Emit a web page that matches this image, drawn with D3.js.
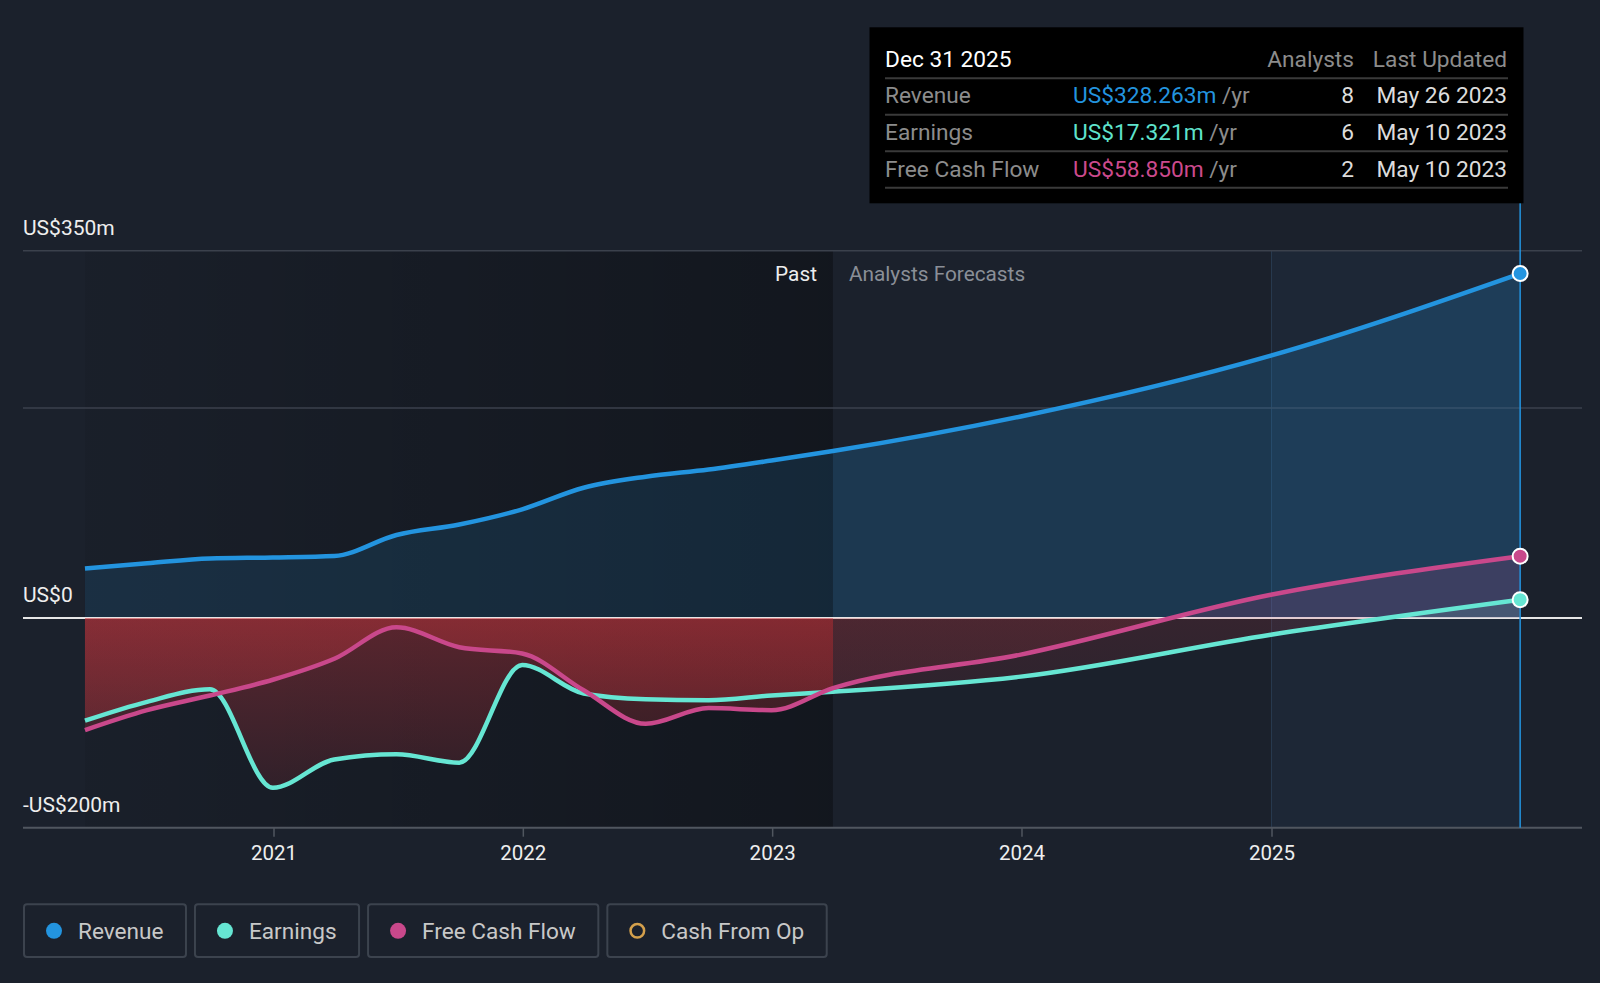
<!DOCTYPE html>
<html>
<head>
<meta charset="utf-8">
<script src="https://cdn.jsdelivr.net/npm/d3@7"></script>
<style>
  body { margin: 0; background: #1b212c; }
  svg { display: block; font-family: Roboto, sans-serif; }
</style>
</head>
<body>
<div id="chart"></div>
<script>
// ---- data (US$ m, trailing twelve months, then analyst forecasts) ----
const pastDates = ["2020-03-31", "2020-06-30", "2020-09-30", "2020-12-31", "2021-03-31", "2021-06-30",
  "2021-09-30", "2021-12-31", "2022-03-31", "2022-06-30", "2022-09-30", "2022-12-31", "2023-03-31"];
const forecastDates = ["2023-12-31", "2024-12-31", "2025-12-31"];

const revenuePast = [47, 52, 56.7, 57.6, 59, 79, 89, 103.5, 124, 134.6, 141.4, 150, 159];
const earningsPast = [-98, -80, -68, -162, -135, -130, -138, -45, -72, -77.5, -78.5, -74, -70.5];
const fcfPast = [-107, -88, -74, -59, -39, -9, -28, -34, -69, -101, -86, -88, -67];

const revenueForecast = [192, 250, 328.263];
const earningsForecast = [-56, -16, 17.321];
const fcfForecast = [-35, 22, 58.85];

const yTicks = [350, 0, -200];
const yGrid = [350, 200];
const xTickYears = ["2021", "2022", "2023", "2024", "2025"];

const tooltipRows = [
  {name: "Revenue", value: "US$328.263m", analysts: "8", updated: "May 26 2023", color: "#2394df"},
  {name: "Earnings", value: "US$17.321m", analysts: "6", updated: "May 10 2023", color: "#5fe3cc"},
  {name: "Free Cash Flow", value: "US$58.850m", analysts: "2", updated: "May 10 2023", color: "#cc4a8d"}
];
const legendItems = [
  {name: "Revenue", color: "#2394df", ring: false},
  {name: "Earnings", color: "#66e6d3", ring: false},
  {name: "Free Cash Flow", color: "#c9488b", ring: false},
  {name: "Cash From Op", color: "#d4a04c", ring: true}
];

const W = 1600, H = 983;
const parse = d3.timeParse("%Y-%m-%d");

function buildSeries(past, fc) {
  const pts = pastDates.map((d, i) => ({date: parse(d), v: past[i]}));
  forecastDates.forEach((d, i) => pts.push({date: parse(d), v: fc[i]}));
  return pts;
}
const revenue = buildSeries(revenuePast, revenueForecast);
const earnings = buildSeries(earningsPast, earningsForecast);
const fcf = buildSeries(fcfPast, fcfForecast);

// scales
const x = d3.scaleTime()
    .domain([parse("2021-01-01"), parse("2025-01-01")])
    .range([273.5, 1271.5]);
const y = d3.scaleLinear().domain([-200, 350]).range([827.7, 250.7]);

const left = 23, right = 1582;
const xStart = x(parse(pastDates[0]));
const xNow = x(parse(pastDates[pastDates.length - 1]));
const xEnd = x(parse(forecastDates[forecastDates.length - 1]));

const svg = d3.select("#chart").append("svg")
    .attr("width", W)
    .attr("height", H);

const defs = svg.append("defs");

svg.append("rect").attr("width", W).attr("height", H).attr("fill", "#1b212c");

// gradients
const pastGrad = defs.append("linearGradient").attr("id", "pastGrad")
    .attr("x1", "0%").attr("x2", "100%").attr("y1", "0%").attr("y2", "0%");
pastGrad.append("stop").attr("offset", "0%").attr("stop-color", "#000").attr("stop-opacity", 0.06);
pastGrad.append("stop").attr("offset", "100%").attr("stop-color", "#000").attr("stop-opacity", 0.32);

const redGrad = defs.append("linearGradient").attr("id", "redGrad")
    .attr("gradientUnits", "userSpaceOnUse")
    .attr("x1", 0).attr("x2", 0).attr("y1", y(0)).attr("y2", y(-200));
redGrad.append("stop").attr("offset", "0%").attr("stop-color", "#d2373e").attr("stop-opacity", 0.36);
redGrad.append("stop").attr("offset", "100%").attr("stop-color", "#d2373e").attr("stop-opacity", 0.08);

// clip paths
defs.append("clipPath").attr("id", "clipPast").append("rect")
    .attr("x", 0).attr("y", 0).attr("width", xNow).attr("height", H);
defs.append("clipPath").attr("id", "clipFore").append("rect")
    .attr("x", xNow).attr("y", 0).attr("width", W - xNow).attr("height", H);
defs.append("clipPath").attr("id", "clipAbove").append("rect")
    .attr("x", 0).attr("y", 0).attr("width", W).attr("height", y(0));
defs.append("clipPath").attr("id", "clipBelow").append("rect")
    .attr("x", 0).attr("y", y(0)).attr("width", W).attr("height", H - y(0));

// past region background
svg.append("rect")
    .attr("x", xStart).attr("y", y(350))
    .attr("width", xNow - xStart).attr("height", y(-200) - y(350))
    .attr("fill", "url(#pastGrad)");

// highlighted last year band
svg.append("rect")
    .attr("x", x(parse("2025-01-01"))).attr("y", y(350))
    .attr("width", xEnd - x(parse("2025-01-01"))).attr("height", y(-200) - y(350))
    .attr("fill", "#3a78b4").attr("fill-opacity", 0.08);
svg.append("line")
    .attr("x1", x(parse("2025-01-01"))).attr("x2", x(parse("2025-01-01")))
    .attr("y1", y(350)).attr("y2", y(-200))
    .attr("stroke", "#4a7aa6").attr("stroke-opacity", 0.25);

// gridlines
svg.selectAll(".grid").data(yGrid).join("line")
    .attr("class", "grid")
    .attr("x1", left).attr("x2", right)
    .attr("y1", d => y(d)).attr("y2", d => y(d))
    .attr("stroke", "#3b414c").attr("stroke-width", 1.5);

// y labels
svg.selectAll(".ylab").data(yTicks).join("text")
    .attr("class", "ylab")
    .attr("x", left).attr("y", d => y(d) - 16)
    .attr("fill", "#eeeeee").attr("font-size", 21)
    .text(d => (d < 0 ? "-US$" : "US$") + Math.abs(d) + (d === 0 ? "" : "m"));

// Past / forecast labels
svg.append("text").attr("x", xNow - 16).attr("y", 280.5)
    .attr("text-anchor", "end").attr("fill", "#ededed").attr("font-size", 20.8).text("Past");
svg.append("text").attr("x", xNow + 16).attr("y", 280.5)
    .attr("fill", "#8a8f97").attr("font-size", 20.8).text("Analysts Forecasts");

const curve = d3.curveMonotoneX;
const lineGen = d3.line().x(d => x(d.date)).y(d => y(d.v)).curve(curve);
const areaGen = d3.area().x(d => x(d.date)).y0(y(0)).y1(d => y(d.v)).curve(curve);

// revenue area
const revPast = svg.append("g").attr("clip-path", "url(#clipPast)");
revPast.append("path").datum(revenue).attr("d", areaGen)
    .attr("fill", "#2394df").attr("fill-opacity", 0.14);
const revFore = svg.append("g").attr("clip-path", "url(#clipFore)");
revFore.append("path").datum(revenue).attr("d", areaGen)
    .attr("fill", "#2394df").attr("fill-opacity", 0.2);

// zero line
svg.append("line")
    .attr("x1", left).attr("x2", right)
    .attr("y1", y(0)).attr("y2", y(0))
    .attr("stroke", "#e6e6e6").attr("stroke-width", 2);

// earnings / fcf areas (red below zero, own colour above)
[[earnings, "#66e6d3"], [fcf, "#c9488b"]].forEach(([series, col]) => {
  const gp = svg.append("g").attr("clip-path", "url(#clipPast)");
  gp.append("g").attr("clip-path", "url(#clipBelow)")
    .append("path").datum(series).attr("d", areaGen).attr("fill", "url(#redGrad)");
  const gf = svg.append("g").attr("clip-path", "url(#clipFore)");
  gf.append("g").attr("clip-path", "url(#clipBelow)")
    .append("path").datum(series).attr("d", areaGen).attr("fill", "url(#redGrad)")
    .attr("opacity", 0.4);
  svg.append("g").attr("clip-path", "url(#clipAbove)")
    .append("path").datum(series).attr("d", areaGen)
    .attr("fill", col).attr("fill-opacity", 0.18);
});

// lines
svg.append("path").datum(earnings).attr("d", lineGen)
    .attr("fill", "none").attr("stroke", "#66e6d3").attr("stroke-width", 4.5);
svg.append("path").datum(fcf).attr("d", lineGen)
    .attr("fill", "none").attr("stroke", "#c9488b").attr("stroke-width", 4.5);
svg.append("path").datum(revenue).attr("d", lineGen)
    .attr("fill", "none").attr("stroke", "#2394df").attr("stroke-width", 4.5);

// x axis
svg.append("line")
    .attr("x1", left).attr("x2", right)
    .attr("y1", y(-200)).attr("y2", y(-200))
    .attr("stroke", "#50565f").attr("stroke-width", 2);
const xAxis = d3.axisBottom(x)
    .tickValues(xTickYears.map(d => parse(d + "-01-01")))
    .tickFormat(d3.timeFormat("%Y"))
    .tickSize(9);
const xAxisG = svg.append("g")
    .attr("transform", `translate(0,${y(-200)})`)
    .call(xAxis);
xAxisG.select(".domain").remove();
xAxisG.selectAll(".tick line").attr("stroke", "#50565f").attr("stroke-width", 1.5);
xAxisG.selectAll(".tick text")
    .attr("y", 32.3).attr("dy", null)
    .attr("fill", "#eeeeee").attr("font-size", 20.5).attr("font-family", "Roboto, sans-serif");

// hover line + end dots
svg.append("line")
    .attr("x1", xEnd).attr("x2", xEnd).attr("y1", 203).attr("y2", y(-200))
    .attr("stroke", "#2394df").attr("stroke-width", 1.5);
[[revenue, "#2394df"], [fcf, "#c9488b"], [earnings, "#66e6d3"]].forEach(([s, col]) => {
  const last = s[s.length - 1];
  svg.append("circle")
      .attr("cx", x(last.date)).attr("cy", y(last.v)).attr("r", 7.5)
      .attr("fill", col).attr("stroke", "#fff").attr("stroke-width", 2);
});

// tooltip box
const tip = svg.append("g");
const tipFont = 22.7;
tip.append("rect").attr("x", 869.5).attr("y", 27.3).attr("width", 654).attr("height", 176)
    .attr("fill", "#000");
const tl = 885, tr = 1507, colNum = 1354, colVal = 1073;
tip.append("text").attr("x", tl).attr("y", 66.7).attr("fill", "#fff").attr("font-size", tipFont).text("Dec 31 2025");
tip.append("text").attr("x", colNum).attr("y", 66.7).attr("text-anchor", "end")
    .attr("fill", "#8c8c8c").attr("font-size", tipFont).text("Analysts");
tip.append("text").attr("x", tr).attr("y", 66.7).attr("text-anchor", "end")
    .attr("fill", "#8c8c8c").attr("font-size", tipFont).text("Last Updated");
const rowBase = [103.3, 140, 176.7];
const sepY = [78.3, 114.8, 151.3, 187.8];
sepY.forEach(sy => tip.append("line").attr("x1", tl).attr("x2", tr + 1)
    .attr("y1", sy).attr("y2", sy).attr("stroke", "#3a3a3a").attr("stroke-width", 2));
tooltipRows.forEach((r, i) => {
  tip.append("text").attr("x", tl).attr("y", rowBase[i]).attr("fill", "#8c8c8c")
      .attr("font-size", tipFont).text(r.name);
  const t = tip.append("text").attr("x", colVal).attr("y", rowBase[i]).attr("font-size", tipFont);
  t.append("tspan").attr("fill", r.color).text(r.value);
  t.append("tspan").attr("fill", "#8c8c8c").text(" /yr");
  tip.append("text").attr("x", colNum).attr("y", rowBase[i]).attr("text-anchor", "end")
      .attr("fill", "#dcdcdc").attr("font-size", tipFont).text(r.analysts);
  tip.append("text").attr("x", tr).attr("y", rowBase[i]).attr("text-anchor", "end")
      .attr("fill", "#dcdcdc").attr("font-size", tipFont).text(r.updated);
});

// legend
let lx = 24;
const ly = 904.3, lh = 52.6;
legendItems.forEach(item => {
  const g = svg.append("g");
  const box = g.append("rect").attr("x", lx).attr("y", ly).attr("height", lh)
      .attr("rx", 3).attr("fill", "none").attr("stroke", "#3c434e").attr("stroke-width", 2);
  if (item.ring) {
    g.append("circle").attr("cx", lx + 30).attr("cy", ly + 26.5).attr("r", 6.8)
        .attr("fill", "none").attr("stroke", item.color).attr("stroke-width", 2.5);
  } else {
    g.append("circle").attr("cx", lx + 30).attr("cy", ly + 26.5).attr("r", 8)
        .attr("fill", item.color);
  }
  const txt = g.append("text").attr("x", lx + 54).attr("y", ly + 34.4)
      .attr("fill", "#c8c8c8").attr("font-size", 22.6).text(item.name);
  const w = 54 + txt.node().getComputedTextLength() + 22.5;
  box.attr("width", w);
  lx += w + 9;
});
</script>
</body>
</html>
